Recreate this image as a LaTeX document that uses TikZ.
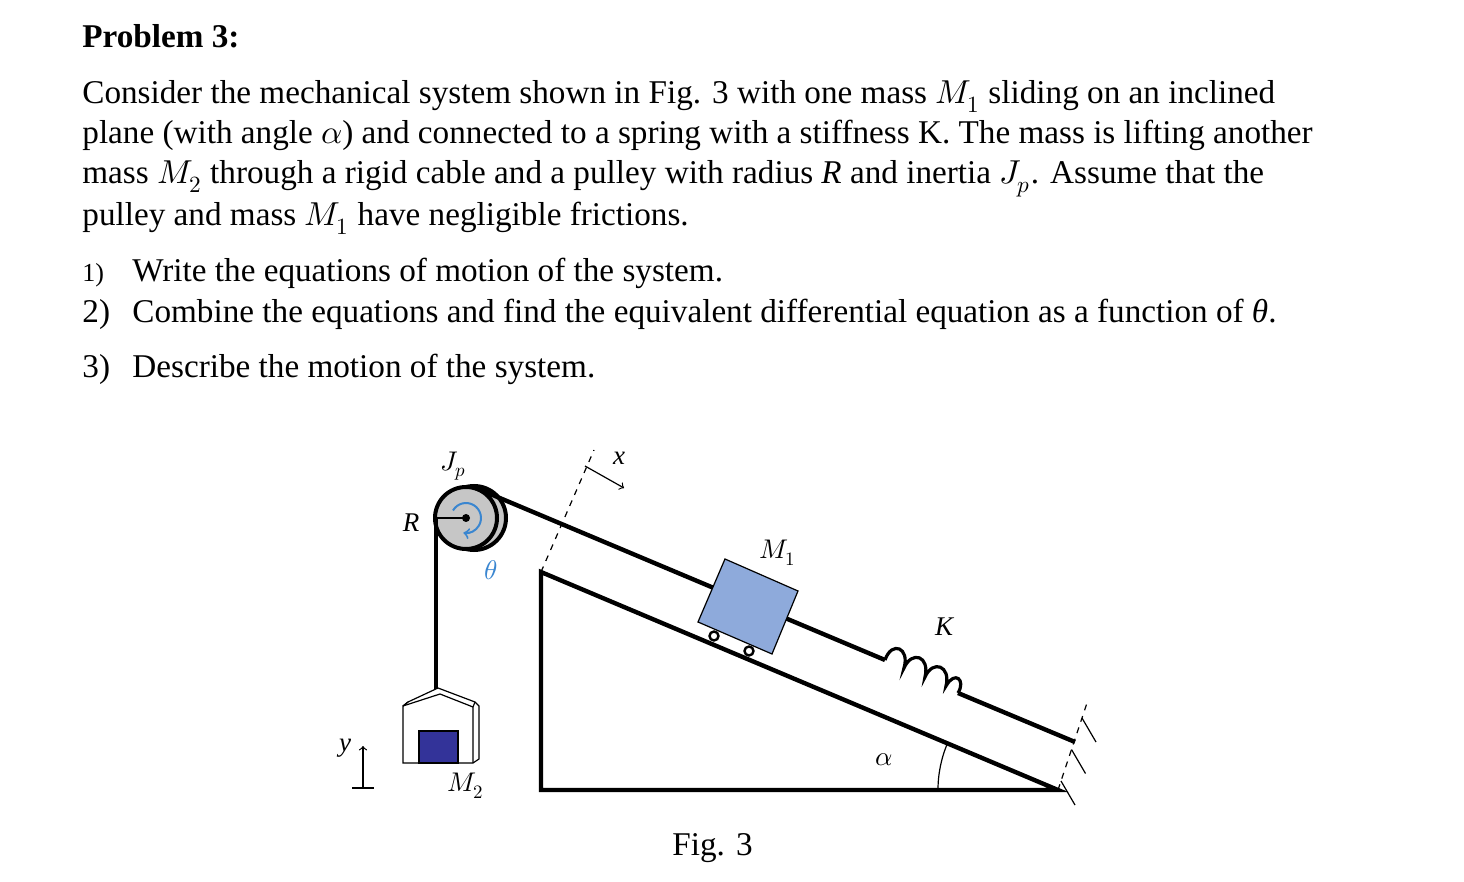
\documentclass[tikz,border=0pt]{standalone}
\usepackage{fontspec}
\setmainfont{Liberation Serif}
\usepackage{amsmath}
\usepackage{unicode-math}
\setmathfont{Latin Modern Math}
\usetikzlibrary{calc}
\definecolor{mblue}{HTML}{8EAADB}
\definecolor{dblue}{HTML}{333399}
\definecolor{tblue}{HTML}{3A86D0}
\begin{document}
\begin{tikzpicture}[x=0.5pt,y=-0.5pt,
  txt/.style={anchor=base west,inner sep=0,font=\fontsize{16.6}{18}\selectfont},
  lab/.style={inner sep=0,font=\fontsize{13.5}{14}\selectfont\itshape},
  thick line/.style={line width=2.2pt},
  thin line/.style={line width=0.6pt}]
\useasboundingbox (0,0) rectangle (1464,882);
% text
\node[txt] (t0) at (82,48) {\textbf{Problem 3:}};
\node[txt] (t1) at (82,104) {Consider the mechanical system shown in Fig. 3 with one mass $M_1$ sliding on an inclined};
\node[txt] (t2) at (82,144) {plane (with angle $\alpha$) and connected to a spring with a stiffness K. The mass is lifting another};
\node[txt] (t3) at (82,184) {mass $M_2$ through a rigid cable and a pulley with radius \textit{R} and inertia $J_p$. Assume that the};
\node[txt] (t4) at (82,226) {pulley and mass $M_1$ have negligible frictions.};
\node[txt,font=\fontsize{13}{14}\selectfont] (n1) at (82,282) {1)};
\node[txt] (l1) at (132,282) {Write the equations of motion of the system.};
\node[txt] (n2) at (82,323) {2)};
\node[txt] (l2) at (132,323) {Combine the equations and find the equivalent differential equation as a function of \textit{θ}.};
\node[txt] (n3) at (82,378) {3)};
\node[txt] (l3) at (132,378) {Describe the motion of the system.};
\node[txt] (fig) at (672,855) {Fig. 3};

% incline
\coordinate (top) at (541,572);
\coordinate (bl) at (541,790);
\coordinate (br) at (1058,790);
\draw[line width=2.2pt,line join=miter] (top) -- (bl) -- (br) -- cycle;
\draw[thin line] (br) ++(-120,0) arc[start angle=180,end angle=202.9,radius=120];
\node[lab] (al) at (884,760) {$\alpha$};
% dashed references
\coordinate (dtop) at (594,450);
\draw[thin line,dashed] (top) -- (dtop);
\coordinate (xa) at (585,466);
\coordinate (xb) at (624,488);
\draw[thin line,->] (xa) -- (xb);
\node[lab] (xl) at (619,458) {x};
\coordinate (rd) at (1088,700);
\draw[thin line,dashed] (br) -- (rd);
\foreach \t in {0.1,0.45,0.8}{
  \draw[thin line] ($(br)!\t!(rd)$) -- ++(14,24);
}
% pulley
\coordinate (pc) at (466,518);
\fill[gray!45] (474,518) circle (32);
\draw[line width=2pt] (474,518) circle (32);
\fill[gray!45] (pc) circle (31);
\draw[line width=2pt] (pc) circle (31);
\draw[thin line] (pc) -- (436,518);
\fill (pc) circle (4);
\draw[tblue,line width=1pt,->] (pc) ++(-150:15) arc[start angle=-150,end angle=100,radius=15];
\node[lab] (jp) at (453,466) {$J_p$};
\node[lab] (rl) at (411,523) {R};
\node[lab,text=tblue] (th) at (491,570) {$\theta$};
% cables
\coordinate (ct) at (476,488);
\coordinate (cend) at (1075,742);
\coordinate (spa) at (885,660);
\coordinate (spb) at (958,693);
\draw[thick line] (ct) -- (spa);
\draw[thick line] (spb) -- (cend);
\draw[line width=1.6pt] (spa) .. controls (892,640) and (910,648) .. (904,668)
  .. controls (912,650) and (930,656) .. (925,677)
  .. controls (933,659) and (951,666) .. (946,686)
  .. controls (955,670) and (966,680) .. (958,693);
\draw[thick line] (436,518) -- (436,690);
% M1
\draw[thin line,fill=mblue] (698,622) -- (725,559) -- (798,591) -- (772,654) -- cycle;
\draw[line width=1.2pt] (714,636) circle (4.5);
\draw[line width=1.2pt] (749,651) circle (4.5);
\node[lab] (m1) at (778,553) {$M_1$};
\node[lab] (kl) at (944,627) {K};
% M2 house
\draw[thin line,fill=white] (438,688) -- (475,702) -- (479,706) -- (479,759) -- (473,763) -- (403,763) -- (403,706) -- (408,702) -- cycle;
\draw[thin line] (403,706) -- (440,694) -- (473,707) -- (473,763);
\draw[thin line] (408,702) -- (403,706);
\draw[thin line] (475,702) -- (473,707);
\fill[dblue] (419,731) rectangle (458,763);
\draw[thin line] (419,731) rectangle (458,763);
\node[lab] (m2) at (466,786) {$M_2$};
% y arrow
\draw[thin line,->] (363,788) -- (363,746);
\draw[thin line] (352,788) -- (374,788);
\node[lab] (yl) at (345,748) {y};
\end{tikzpicture}
\end{document}
